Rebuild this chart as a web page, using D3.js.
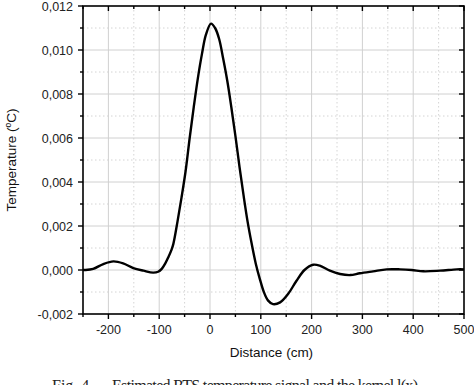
<!DOCTYPE html>
<html>
<head>
<meta charset="utf-8">
<script src="https://cdn.jsdelivr.net/npm/d3@7"></script>
<style>
  body { margin: 0; background: #fff; }
  svg text { font-family: "Liberation Sans", Arial, sans-serif; }
</style>
</head>
<body>
<div id="chart"></div>
<script>
// DATA
var distance = [-250, -246, -230, -210, -190, -171, -151, -131, -112, -102, -95, -88, -82, -76, -72, -64, -56, -48, -40, -32, -24, -16, -8, 2,
  10, 18, 26, 34, 42, 50, 58, 66, 74, 82, 90, 98, 106, 114, 124, 138, 154, 170, 186, 203, 216, 236, 256, 276, 295, 321, 348, 374, 397, 420, 453, 486, 500];
var temperature = [0.0000, 0.0000, 0.00005, 0.00027, 0.00039, 0.0003, 0.00009, -0.00003, -0.00012, -0.00008, 0.00005, 0.0003, 0.00058, 0.0009, 0.0012, 0.0022, 0.0033, 0.0045, 0.0060, 0.0074, 0.0087, 0.0098, 0.0107, 0.0112,
  0.0110, 0.0105, 0.0096, 0.0086, 0.0074, 0.0061, 0.0047, 0.0034, 0.0022, 0.0012, 0.0003, -0.0004, -0.0010, -0.00138, -0.00155, -0.00147, -0.00108, -0.0005, 0.0000, 0.00024, 0.0002, -0.00003, -0.00018, -0.00023, -0.00015, -0.00006, 0.00003, 0.00003, 0.0000, -0.00006, -0.00003, 0.00003, 0.00003];

var xMajor = [-200, -100, 0, 100, 200, 300, 400, 500];
var xMinor = [-250, -150, -50, 50, 150, 250, 350, 450];
var yMajor = [-0.002, 0.000, 0.002, 0.004, 0.006, 0.008, 0.010, 0.012];
var yMinor = [-0.001, 0.001, 0.003, 0.005, 0.007, 0.009, 0.011];

var xTitle = "Distance (cm)";
var figLabel = "Fig. 4.";
var captionText = "Estimated RTS temperature signal and the kernel l(x)";

// LAYOUT
var W = 474, H = 385;
var pL = 83, pR = 464, pT = 6, pB = 314;

var svg = d3.select("#chart").append("svg")
  .attr("width", W)
  .attr("height", H);

var x = d3.scaleLinear().domain([-250, 500]).range([pL, pR]);
var y = d3.scaleLinear().domain([-0.002, 0.012]).range([pB, pT]);

// grid: minor dotted, major solid
svg.append("g").selectAll("line").data(xMinor.filter(function(d){ return d > -250; })).enter().append("line")
  .attr("x1", function(d){ return x(d); }).attr("x2", function(d){ return x(d); })
  .attr("y1", pT).attr("y2", pB)
  .attr("stroke", "#d4d4d4").attr("stroke-width", 1).attr("stroke-dasharray", "1.5,2.5");
svg.append("g").selectAll("line").data(yMinor).enter().append("line")
  .attr("x1", pL).attr("x2", pR)
  .attr("y1", function(d){ return y(d); }).attr("y2", function(d){ return y(d); })
  .attr("stroke", "#d4d4d4").attr("stroke-width", 1).attr("stroke-dasharray", "1.5,2.5");
svg.append("g").selectAll("line").data(xMajor.filter(function(d){ return d < 500; })).enter().append("line")
  .attr("x1", function(d){ return x(d); }).attr("x2", function(d){ return x(d); })
  .attr("y1", pT).attr("y2", pB)
  .attr("stroke", "#d0d0d0").attr("stroke-width", 1);
svg.append("g").selectAll("line").data(yMajor.filter(function(d){ return d > -0.002 && d < 0.012; })).enter().append("line")
  .attr("x1", pL).attr("x2", pR)
  .attr("y1", function(d){ return y(d); }).attr("y2", function(d){ return y(d); })
  .attr("stroke", "#d0d0d0").attr("stroke-width", 1);

// curve
var line = d3.line()
  .x(function(d){ return x(d[0]); })
  .y(function(d){ return y(d[1]); })
  .curve(d3.curveCatmullRom.alpha(0.5));
svg.append("path")
  .datum(d3.zip(distance, temperature))
  .attr("d", line)
  .attr("fill", "none")
  .attr("stroke", "#000")
  .attr("stroke-width", 2.4)
  .attr("stroke-linejoin", "round");

// frame
svg.append("rect")
  .attr("x", pL).attr("y", pT)
  .attr("width", pR - pL).attr("height", pB - pT)
  .attr("fill", "none").attr("stroke", "#000").attr("stroke-width", 1.6);

// ticks helper
function ticks(vals, len, orient) {
  svg.append("g").selectAll("line").data(vals).enter().append("line")
    .attr("x1", function(d){ return orient == "b" || orient == "t" ? x(d) : (orient == "l" ? pL : pR); })
    .attr("x2", function(d){ return orient == "b" || orient == "t" ? x(d) : (orient == "l" ? pL - len : pR - len); })
    .attr("y1", function(d){ return orient == "b" ? pB : (orient == "t" ? pT : y(d)); })
    .attr("y2", function(d){ return orient == "b" ? pB + len : (orient == "t" ? pT + len : y(d)); })
    .attr("stroke", "#000").attr("stroke-width", 1.4);
}
ticks(xMajor, 5, "b"); ticks(xMinor, 3, "b");
ticks(xMajor, 5, "t"); ticks(xMinor, 3, "t");
ticks(yMajor, 5, "l"); ticks(yMinor, 3, "l");
ticks(yMajor, 5, "r"); ticks(yMinor, 3, "r");

// tick labels
var fmtY = function(d){ return d3.format(".3f")(d).replace(".", ",").replace("−", "-"); };
svg.append("g").selectAll("text").data(xMajor).enter().append("text")
  .attr("x", function(d){ return x(d); })
  .attr("y", pB + 20)
  .attr("text-anchor", "middle")
  .attr("font-size", 12.5)
  .attr("fill", "#222")
  .text(function(d){ return d; });
svg.append("g").selectAll("text").data(yMajor).enter().append("text")
  .attr("x", pL - 10)
  .attr("y", function(d){ return y(d) + 4.5; })
  .attr("text-anchor", "end")
  .attr("font-size", 12.5)
  .attr("fill", "#222")
  .text(fmtY);

// axis titles
svg.append("text")
  .attr("x", (pL + pR) / 2 - 2)
  .attr("y", 357)
  .attr("text-anchor", "middle")
  .attr("font-size", 13.5)
  .attr("fill", "#111")
  .text(xTitle);

var yt = svg.append("text")
  .attr("transform", "translate(16," + ((pT + pB) / 2) + ") rotate(-90)")
  .attr("text-anchor", "middle")
  .attr("font-size", 13.5)
  .attr("fill", "#111");
yt.append("tspan").text("Temperature (");
yt.append("tspan").attr("font-size", 8.5).attr("dy", -5).text("o");
yt.append("tspan").attr("dy", 5).text("C)");

// caption (cut off by the page edge)
var cap = svg.append("g")
  .style("font-family", "'Liberation Serif', 'Times New Roman', serif");
cap.append("text")
  .attr("x", 52).attr("y", 391)
  .style("font-family", "'Liberation Serif', 'Times New Roman', serif")
  .attr("font-size", 16).attr("fill", "#222")
  .text(figLabel);
cap.append("text")
  .attr("x", 112).attr("y", 391)
  .style("font-family", "'Liberation Serif', 'Times New Roman', serif")
  .attr("font-size", 16).attr("fill", "#222")
  .attr("textLength", 306).attr("lengthAdjust", "spacing")
  .text(captionText);
</script>
</body>
</html>
